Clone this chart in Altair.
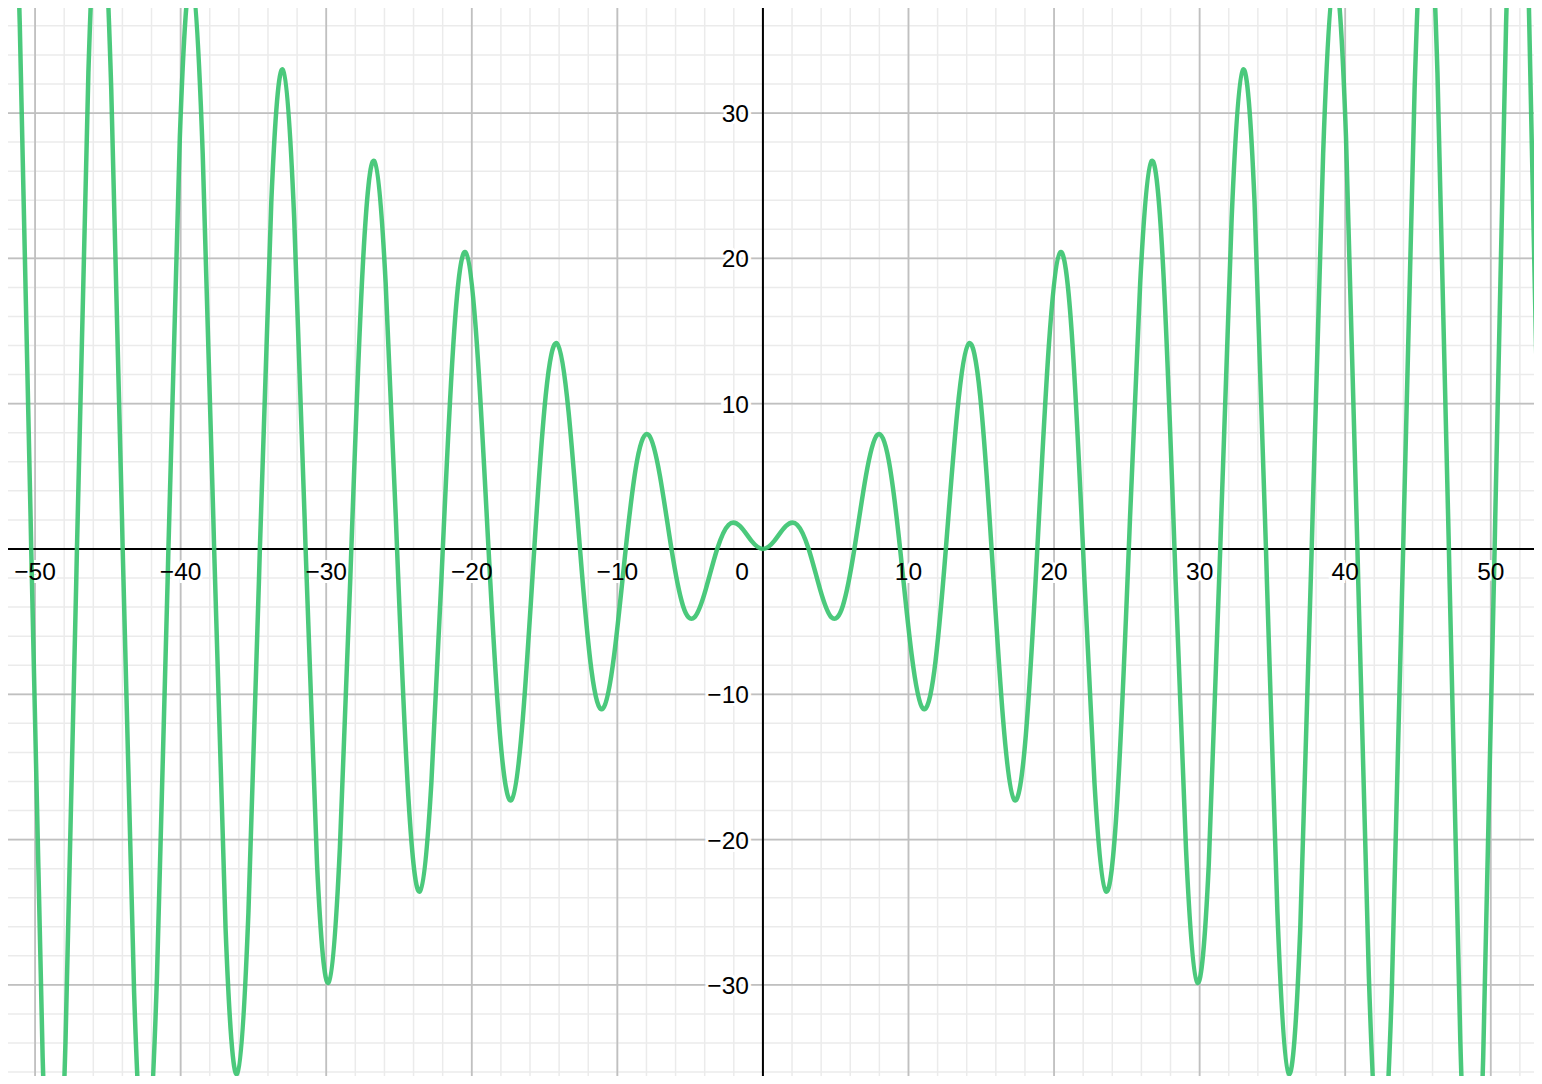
import altair as alt
import pandas as pd

# ---- curve samples (x, y) ----
curve_x = [
    -54.978, -54.192, -53.407, -52.622, -51.836, -51.051, -50.265, -49.48, -48.695, -47.909,
    -47.124, -46.338, -45.553, -44.768, -43.982, -43.197, -42.412, -41.626, -40.841, -40.055,
    -39.27, -38.485, -37.699, -36.914, -36.128, -35.343, -34.558, -33.772, -32.987, -32.201,
    -31.416, -30.631, -29.845, -29.06, -28.274, -27.489, -26.704, -25.918, -25.133, -24.347,
    -23.562, -22.777, -21.991, -21.206, -20.42, -19.635, -18.85, -18.064, -17.279, -16.493,
    -15.708, -14.923, -14.137, -13.352, -12.566, -11.781, -10.996, -10.21, -9.425, -8.639,
    -7.854, -7.069, -6.283, -5.498, -4.712, -3.927, -3.142, -2.356, -1.571, -0.785,
    0.0,
    0.785, 1.571, 2.356, 3.142, 3.927, 4.712, 5.498, 6.283, 7.069, 7.854,
    8.639, 9.425, 10.21, 10.996, 11.781, 12.566, 13.352, 14.137, 14.923, 15.708,
    16.493, 17.279, 18.064, 18.85, 19.635, 20.42, 21.206, 21.991, 22.777, 23.562,
    24.347, 25.133, 25.918, 26.704, 27.489, 28.274, 29.06, 29.845, 30.631, 31.416,
    32.201, 32.987, 33.772, 34.558, 35.343, 36.128, 36.914, 37.699, 38.485, 39.27,
    40.055, 40.841, 41.626, 42.412, 43.197, 43.982, 44.768, 45.553, 46.338, 47.124,
    47.909, 48.695, 49.48, 50.265, 51.051, 51.836, 52.622, 53.407, 54.192, 54.978,
]
curve_y = [
    -54.978, -38.319, 0.0, 37.208, 51.836, 36.098, 0.0, -34.987, -48.695, -33.876,
    0.0, 32.766, 45.553, 31.655, 0.0, -30.544, -42.412, -29.434, 0.0, 28.323,
    39.27, 27.212, 0.0, -26.102, -36.128, -24.991, 0.0, 23.88, 32.987, 22.769,
    0.0, -21.659, -29.845, -20.548, 0.0, 19.437, 26.704, 18.327, 0.0, -17.216,
    -23.562, -16.105, 0.0, 14.995, 20.42, 13.884, 0.0, -12.773, -17.279, -11.662,
    0.0, 10.552, 14.137, 9.441, 0.0, -8.33, -10.996, -7.22, 0.0, 6.109,
    7.854, 4.998, 0.0, -3.888, -4.712, -2.777, 0.0, 1.666, 1.571, 0.555,
    0.0,
    0.555, 1.571, 1.666, 0.0, -2.777, -4.712, -3.888, 0.0, 4.998, 7.854,
    6.109, 0.0, -7.22, -10.996, -8.33, 0.0, 9.441, 14.137, 10.552, 0.0,
    -11.662, -17.279, -12.773, 0.0, 13.884, 20.42, 14.995, 0.0, -16.105, -23.562,
    -17.216, 0.0, 18.327, 26.704, 19.437, 0.0, -20.548, -29.845, -21.659, 0.0,
    22.769, 32.987, 23.88, 0.0, -24.991, -36.128, -26.102, 0.0, 27.212, 39.27,
    28.323, 0.0, -29.434, -42.412, -30.544, 0.0, 31.655, 45.553, 32.766, 0.0,
    -33.876, -48.695, -34.987, 0.0, 36.098, 51.836, 37.208, 0.0, -38.319, -54.978,
]

# ---- tick labels ----
x_tick_values = [-50, -40, -30, -20, -10, 10, 20, 30, 40, 50]
x_tick_labels = ["\u221250", "\u221240", "\u221230", "\u221220", "\u221210", "10", "20", "30", "40", "50"]
y_tick_values = [30, 20, 10, -10, -20, -30]
y_tick_labels = ["30", "20", "10", "\u221210", "\u221220", "\u221230"]

minor_x = list(range(-52, 54, 2))
minor_y = list(range(-36, 38, 2))
major_x = list(range(-50, 60, 10))
major_y = list(range(-30, 40, 10))

W, H = 1526, 1068
XDOM = [-51.86, 52.97]
YDOM = [-36.27, 37.23]
FONT = "Liberation Sans"
FS = 24.5

xs = alt.Scale(domain=XDOM, nice=False, zero=False)
ys = alt.Scale(domain=YDOM, nice=False, zero=False)

curve_df = pd.DataFrame({"x": curve_x, "y": curve_y})
xlab_df = pd.DataFrame({"x": x_tick_values, "y": [0] * len(x_tick_values), "t": x_tick_labels})
ylab_df = pd.DataFrame({"x": [0] * len(y_tick_values), "y": y_tick_values, "t": y_tick_labels})
zero_df = pd.DataFrame({"x": [0], "y": [0], "t": ["0"]})

minor_v = alt.Chart(pd.DataFrame({"g": minor_x})).mark_rule(color="#ebebeb", strokeWidth=1.5).encode(
    x=alt.X("g:Q", scale=xs, axis=None))
minor_h = alt.Chart(pd.DataFrame({"g": minor_y})).mark_rule(color="#ebebeb", strokeWidth=1.5).encode(
    y=alt.Y("g:Q", scale=ys, axis=None))
major_v = alt.Chart(pd.DataFrame({"g": major_x})).mark_rule(color="#c0c0c0", strokeWidth=1.8).encode(
    x=alt.X("g:Q", scale=xs, axis=None))
major_h = alt.Chart(pd.DataFrame({"g": major_y})).mark_rule(color="#c0c0c0", strokeWidth=1.8).encode(
    y=alt.Y("g:Q", scale=ys, axis=None))

axis_v = alt.Chart(pd.DataFrame({"g": [0]})).mark_rule(color="#000000", strokeWidth=2).encode(
    x=alt.X("g:Q", scale=xs, axis=None))
axis_h = alt.Chart(pd.DataFrame({"g": [0]})).mark_rule(color="#000000", strokeWidth=2).encode(
    y=alt.Y("g:Q", scale=ys, axis=None))


def xlabels(halo):
    kw = dict(stroke="white", strokeWidth=6, fill="white") if halo else dict(fill="black")
    return alt.Chart(xlab_df).mark_text(font=FONT, fontSize=FS, align="center", baseline="alphabetic",
                                        dy=31, **kw).encode(
        x=alt.X("x:Q", scale=xs, axis=None), y=alt.Y("y:Q", scale=ys, axis=None), text="t:N")


def ylabels(halo):
    kw = dict(stroke="white", strokeWidth=6, fill="white") if halo else dict(fill="black")
    return alt.Chart(ylab_df).mark_text(font=FONT, fontSize=FS, align="right", baseline="alphabetic",
                                        dx=-14, dy=9, **kw).encode(
        x=alt.X("x:Q", scale=xs, axis=None), y=alt.Y("y:Q", scale=ys, axis=None), text="t:N")


def zlabel(halo):
    kw = dict(stroke="white", strokeWidth=6, fill="white") if halo else dict(fill="black")
    return alt.Chart(zero_df).mark_text(font=FONT, fontSize=FS, align="right", baseline="alphabetic",
                                        dx=-14, dy=31, **kw).encode(
        x=alt.X("x:Q", scale=xs, axis=None), y=alt.Y("y:Q", scale=ys, axis=None), text="t:N")


curve = alt.Chart(curve_df).mark_line(color="#3cc471", opacity=0.92, strokeWidth=4.5,
                                      interpolate="natural", clip=True,
                                      strokeCap="round", strokeJoin="round").encode(
    x=alt.X("x:Q", scale=xs, axis=None), y=alt.Y("y:Q", scale=ys, axis=None), order="x:Q")

chart = alt.layer(
    minor_v, minor_h, major_v, major_h,
    xlabels(True), ylabels(True), zlabel(True),
    axis_v, axis_h,
    curve,
    xlabels(False), ylabels(False), zlabel(False),
).properties(
    width=W, height=H, padding=0, autosize=alt.AutoSizeParams(type="none"),
).configure_view(strokeWidth=0)

chart.save("out.html", embed_options={"renderer": "svg", "actions": False})
